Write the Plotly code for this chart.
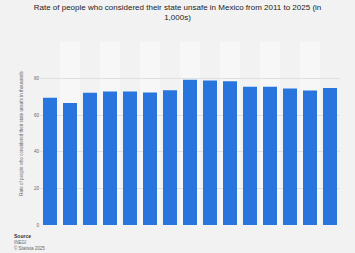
import plotly.graph_objects as go

years = [str(y) for y in range(2011, 2026)]
values = [69.5, 66.6, 72.3, 72.9, 72.9, 72.4, 73.7, 79.4, 79.0, 78.6, 75.6, 75.6, 74.6, 73.5, 74.9]
ytick_vals = [0, 20, 40, 60, 80, 100]
ytick_text = ["0", "20", "40", "60", "80", ""]

title_text = "Rate of people who considered their state unsafe in Mexico from 2011 to 2025 (in<br>1,000s)"
ytitle = "Rate of people who considered their state unsafe in thousands"

fig = go.Figure()
fig.add_trace(go.Bar(x=list(range(len(years))), y=values, marker=dict(color="#2876dd", line=dict(width=0)),
                     hovertext=years))

shapes = []
for i in range(len(years)):
    if i % 2 == 1:
        shapes.append(dict(type="rect", xref="x", yref="paper", x0=i - 0.5, x1=i + 0.5, y0=0, y1=1,
                           fillcolor="#f7f7f7", line=dict(width=0), layer="below"))

fig.update_layout(
    width=355, height=253,
    margin=dict(l=40, r=15, t=42, b=28),
    paper_bgcolor="#f2f2f2", plot_bgcolor="#f2f2f2",
    bargap=0.3,
    showlegend=False,
    shapes=shapes,
    title=dict(text=title_text, x=0.5, xanchor="center", y=0.962, yanchor="top",
               font=dict(family="Liberation Sans, Arial", size=8, color="#222222")),
    xaxis=dict(range=[-0.5, len(years) - 0.5], showticklabels=False, showgrid=False, zeroline=False,
               showline=False, ticks=""),
    yaxis=dict(range=[0, 100], tickvals=ytick_vals, ticktext=ytick_text, showgrid=True,
               gridcolor="#e0e0e0", gridwidth=0.6, zeroline=False, ticks="",
               tickfont=dict(family="Liberation Sans, Arial", size=4.5, color="#666666"),
               title=dict(text=ytitle, standoff=10,
                          font=dict(family="Liberation Sans, Arial", size=4.5, color="#666666"))),
    annotations=[
        dict(text="<b>Source</b>", xref="paper", yref="paper", x=-0.095, y=-0.06, xanchor="left",
             yanchor="middle", showarrow=False, font=dict(family="Liberation Sans, Arial", size=5, color="#333333")),
        dict(text="INEGI", xref="paper", yref="paper", x=-0.095, y=-0.093, xanchor="left",
             yanchor="middle", showarrow=False, font=dict(family="Liberation Sans, Arial", size=4.5, color="#666666")),
        dict(text="© Statista 2025", xref="paper", yref="paper", x=-0.095, y=-0.126, xanchor="left",
             yanchor="middle", showarrow=False, font=dict(family="Liberation Sans, Arial", size=4.5, color="#666666")),
    ],
)

fig.write_html("out.html")
